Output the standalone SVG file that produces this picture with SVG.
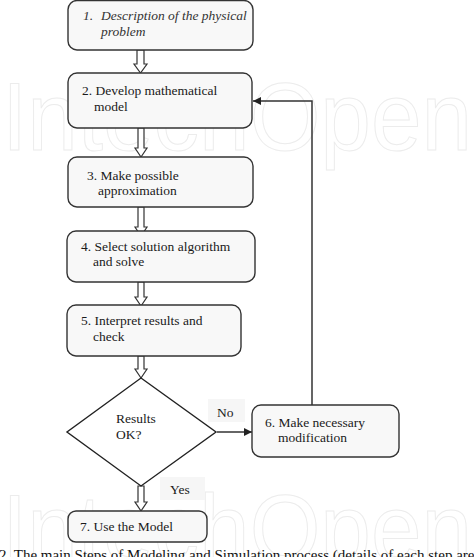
<svg xmlns="http://www.w3.org/2000/svg" width="474" height="557" viewBox="0 0 474 557">
<style>
.box{fill:#f8f8f8;stroke:#333;stroke-width:1.4}
.t{font-family:"Liberation Serif","Times New Roman",serif;font-size:13.5px;fill:#1a1a1a}
.ti{font-family:"Liberation Serif","Times New Roman",serif;font-size:13.5px;font-style:italic;fill:#333}
.hollow{fill:#fff;stroke:#333;stroke-width:1.2}
.line{fill:none;stroke:#333;stroke-width:1.5}
.wm{font-family:"Liberation Sans",Arial,sans-serif;font-size:96px;fill:none;stroke:#ececec;stroke-width:1}
.lblbg{fill:#f6f6f6}
.cap{font-family:"Liberation Serif","Times New Roman",serif;font-size:15px;fill:#111}
</style>
<defs>
<marker id="ah" viewBox="0 0 10 10" refX="10" refY="5" markerWidth="8" markerHeight="8" markerUnits="userSpaceOnUse" orient="auto">
<path d="M0,0 L10,5 L0,10 Z" fill="#222"/>
</marker>
</defs>
<rect width="474" height="557" fill="#fff"/>
<g id="watermark">
<text class="wm" x="2" y="150" textLength="470" lengthAdjust="spacingAndGlyphs">IntechOpen</text>
<text class="wm" x="2" y="562" textLength="470" lengthAdjust="spacingAndGlyphs">IntechOpen</text>
</g>
<g id="connectors">
<path class="hollow" d="M137,50 V64 H134 L140.5,73 L147,64 H144 V50 Z"/>
<path class="hollow" d="M138,128 V148 H135 L141,157 L147,148 H144 V128 Z"/>
<path class="hollow" d="M138,207 V227 H135 L141,236 L147,227 H144 V207 Z"/>
<path class="hollow" d="M138,282 V297 H135 L141,306 L147,297 H144 V282 Z"/>
<path class="hollow" d="M138,356 V369 H135 L141,378 L147,369 H144 V356 Z"/>
<path class="hollow" d="M138,486 V502 H135 L141,511 L147,502 H144 V486 Z"/>
<path class="line" d="M217,432 H252" marker-end="url(#ah)"/>
<path class="line" d="M312,405 V101 H253" marker-end="url(#ah)"/>
<rect class="lblbg" x="208" y="399" width="37" height="23"/>
<text class="t" x="217" y="417">No</text>
<rect class="lblbg" x="160" y="477" width="45" height="23"/>
<text class="t" x="170" y="494">Yes</text>
</g>
<g id="n1">
<rect class="box" x="68" y="0.5" width="185" height="49.5" rx="9"/>
<text class="ti" x="83" y="20">1.</text>
<text class="ti" x="101" y="20">Description of the physical</text>
<text class="ti" x="101" y="36">problem</text>
</g>
<g id="n2">
<rect class="box" x="68" y="73" width="184" height="55" rx="9"/>
<text class="t" x="82" y="95">2. Develop mathematical</text>
<text class="t" x="94" y="111">model</text>
</g>
<g id="n3">
<rect class="box" x="68" y="157" width="185" height="50" rx="9"/>
<text class="t" x="87" y="180">3. Make possible</text>
<text class="t" x="98" y="195">approximation</text>
</g>
<g id="n4">
<rect class="box" x="67" y="231" width="188" height="51" rx="9"/>
<text class="t" x="81" y="251">4. Select solution algorithm</text>
<text class="t" x="93" y="266">and solve</text>
</g>
<g id="n5">
<rect class="box" x="67" y="305" width="174" height="51" rx="9"/>
<text class="t" x="81" y="325">5. Interpret results and</text>
<text class="t" x="93" y="341">check</text>
</g>
<g id="n_decision">
<polygon points="141,378 216,432 141,486 67,432" fill="#fff" stroke="#222" stroke-width="1.4"/>
<text class="t" x="116" y="423">Results</text>
<text class="t" x="116" y="439">OK?</text>
</g>
<g id="n6">
<rect class="box" x="252" y="405" width="147" height="52" rx="9"/>
<text class="t" x="265" y="427">6. Make necessary</text>
<text class="t" x="278" y="442">modification</text>
</g>
<g id="n7">
<rect class="box" x="68" y="511" width="139" height="31" rx="8"/>
<text class="t" x="80" y="531">7. Use the Model</text>
</g>
<text class="cap" x="-1" y="560">2. The main Steps of Modeling and Simulation process (details of each step are given</text>
</svg>
